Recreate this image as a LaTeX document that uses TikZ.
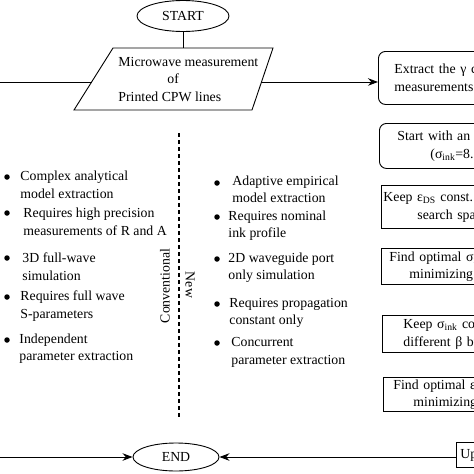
\documentclass[tikz,border=0pt]{standalone}
\usepackage{fontspec}
\setmainfont{Liberation Serif}
\usetikzlibrary{shapes.geometric,arrows.meta,calc}
\begin{document}
\begin{tikzpicture}[x=1pt,y=-1pt,line width=0.9pt,
  font=\fontsize{13.8}{17.5}\selectfont,
  term/.style={ellipse,draw,inner sep=0pt},
  rbox/.style={draw,rounded corners=7pt,anchor=north west,text width=220pt,align=left,inner ysep=0pt},
  sbox/.style={draw,anchor=north west,text width=220pt,align=left,inner ysep=0pt},
  item/.style={anchor=west,align=left,inner sep=0pt},
  bul/.style={circle,fill,inner sep=0pt,minimum size=5.5pt},
  arr/.style={-{Stealth[length=10pt,width=7.5pt]}}]
\useasboundingbox (0,0) rectangle (474,474);
\clip (0,0) rectangle (474,474);
% start and measurement
\node[term,minimum width=92pt,minimum height=31pt] (start) at (183,16) {START};
\coordinate (pa) at (113,48);
\coordinate (pb) at (273,48);
\coordinate (pc) at (252,110);
\coordinate (pd) at (74,110);
\draw (pa) -- (pb) -- (pc) -- (pd) -- cycle;
\node[item] (meas) at (118,79.5) {Microwave measurement\\\hspace*{49pt}of\\Printed CPW lines};
\coordinate (pl) at ($(pd)!0.452!(pa)$);
\coordinate (pr) at ($(pc)!0.452!(pb)$);
\coordinate (lin) at (0,82);
\draw (start.south) -- (start.south |- pa);
\draw (pl) -- (pl -| lin);
% right hand steps
\node[rbox,minimum height=53pt,inner xsep=16pt] (extr) at (378,51) {Extract the γ constant from the\\measurements};
\node[rbox,minimum height=45pt,inner xsep=18pt] (init) at (379,123) {Start with an initial guess\\\hspace*{33pt}(σ\textsubscript{ink}=8.5×10\textsuperscript{6} S/m)};
\node[sbox,minimum height=43pt,inner xsep=2pt] (keepe) at (381,185) {Keep ε\textsubscript{DS} const. and set the\\\hspace*{34pt}search space};
\node[sbox,minimum height=36pt,inner xsep=8pt] (finds) at (381,248) {Find optimal σ\textsubscript{ink} by\\\hspace*{20pt}minimizing the error};
\node[sbox,minimum height=37pt,inner xsep=21pt] (keeps) at (382,315) {Keep σ\textsubscript{ink} const. for\\different β by sweeping};
\node[sbox,minimum height=34pt,inner xsep=10pt] (finde) at (383,377) {Find optimal ε\textsubscript{DS} by\\\hspace*{20pt}minimizing the error};
\node[sbox,minimum height=25pt,inner xsep=4pt] (upd) at (456,442) {Update};
\draw[arr] (pr) -- (pr -| extr.west);
% comparison of the two methods
\coordinate (divtop) at (179,133);
\coordinate (divbot) at (179,419);
\draw[line width=1.3pt,dash pattern=on 4pt off 3pt] (divtop) -- (divbot);
\node[rotate=90] (conv) at (165,286) {Conventional};
\node[rotate=-90] (new) at (190,285) {New};
\node[item] (lcplx) at (20,185) {Complex analytical\\model extraction};
\node[item] (lprec) at (23,222) {Requires high precision\\measurements of R and A};
\node[item] (lfull) at (22,266.5) {3D full-wave\\simulation};
\node[item] (lspar) at (20,306) {Requires full wave\\S-parameters};
\node[item] (lindep) at (19,348.5) {Independent\\parameter extraction};
\node[item] (radapt) at (232,189.5) {Adaptive empirical\\model extraction};
\node[item] (rnom) at (228,225.5) {Requires nominal\\ink profile};
\node[item] (rport) at (228,267.5) {2D waveguide port\\only simulation};
\node[item] (rprop) at (229,313) {Requires propagation\\constant only};
\node[item] (rconc) at (231,352.5) {Concurrent\\parameter extraction};
\foreach \bx/\by in {7/177,7/213,7/258,7/297,7/340,217/183,217/217,217/259,217/304,217/343}
  \node[bul] (b\bx-\by) at (\bx,\by) {};
% end
\node[term,minimum width=86pt,minimum height=28pt] (stop) at (176,457) {END};
\coordinate (lend) at (0,457);
\draw[arr] (lend) -- (stop.west);
\draw[arr] (stop.east -| upd.west) -- (stop.east);
\end{tikzpicture}
\end{document}
